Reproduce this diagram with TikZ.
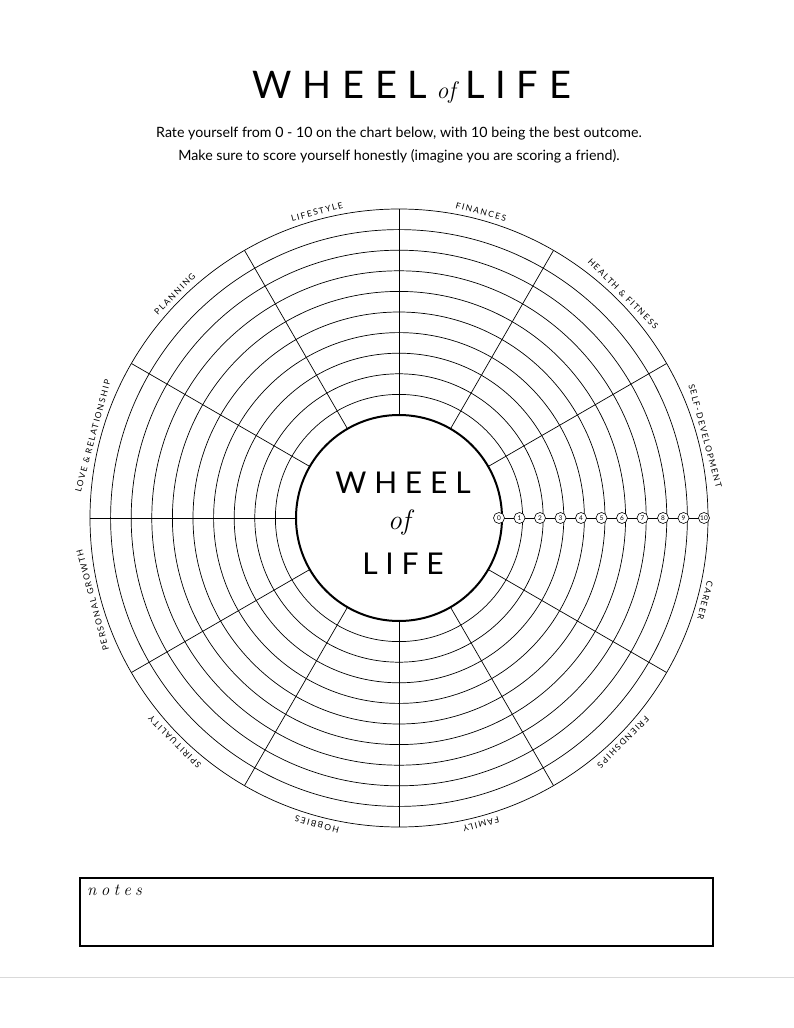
\documentclass[tikz,border=0pt]{standalone}
\usepackage{fontspec}
\setmainfont{Lato}
\newfontfamily\lmserif{Latin Modern Roman}
\begin{document}
\begin{tikzpicture}[x=1pt,y=1pt,
  ring/.style={draw=black,line width=0.7pt},
  spoke/.style={draw=black,line width=0.7pt},
  lab/.style={font=\fontsize{8.5}{10}\selectfont\addfontfeatures{LetterSpace=18}, inner sep=0pt},
  num/.style={circle,draw,fill=white,line width=0.6pt,minimum size=11pt,inner sep=0pt,font=\fontsize{6.5}{7}\selectfont}]
\useasboundingbox (-399,518) rectangle (395,-510);
\fill[white] (-399,518) rectangle (395,-510);
% title
\node (title) at (13,431) {\fontsize{38}{40}\selectfont\addfontfeatures{LetterSpace=28}WHEEL\hspace{9pt}{\lmserif\itshape\fontsize{24}{28}\selectfont\addfontfeatures{LetterSpace=0}of}\hspace{10pt}LIFE};
\node (sub1) at (0,384) {\fontsize{14.2}{16}\selectfont Rate yourself from 0 - 10 on the chart below, with 10 being the best outcome.};
\node (sub2) at (0,362) {\fontsize{14.2}{16}\selectfont Make sure to score yourself honestly (imagine you are scoring a friend).};
% spokes
\foreach \a in {0,30,...,330} \draw[spoke] (\a:103) -- (\a:309);
% rings
\foreach \k in {1,...,10} \draw[ring] (0,0) circle ({103+20.6*\k});
\draw[line width=2pt] (0,0) circle (103);
% numbers
\foreach \k in {0,...,10} \node[num] (n\k) at ({100+20.5*\k},0) {\k};
% center text
\node (c1) at (4,35) {\fontsize{30}{32}\selectfont\addfontfeatures{LetterSpace=26}WHEEL};
\node (c2) at (0,-4) {\lmserif\itshape\fontsize{28}{30}\selectfont of};
\node (c3) at (4,-46) {\fontsize{30}{32}\selectfont\addfontfeatures{LetterSpace=26}LIFE};
% labels
\foreach \a/\t in {75/FINANCES,45/HEALTH \& FITNESS,15/SELF-DEVELOPMENT,-15/CAREER,-45/FRIENDSHIPS,-75/FAMILY,-105/HOBBIES,-135/SPIRITUALITY,-165/PERSONAL GROWTH,165/LOVE \& RELATIONSHIP,135/PLANNING,105/LIFESTYLE}
  \node[lab,rotate=\a-90] at (\a:317) {\t};
% notes
\draw[line width=1.2pt] (-319,-360) rectangle (314,-428);
\node[anchor=base west,inner sep=0pt] (notes) at (-312,-377) {\lmserif\itshape\fontsize{17}{18}\selectfont\addfontfeatures{LetterSpace=25}notes};
\draw[gray!30,line width=0.8pt] (-399,-459) -- (395,-459);
\end{tikzpicture}
\end{document}
